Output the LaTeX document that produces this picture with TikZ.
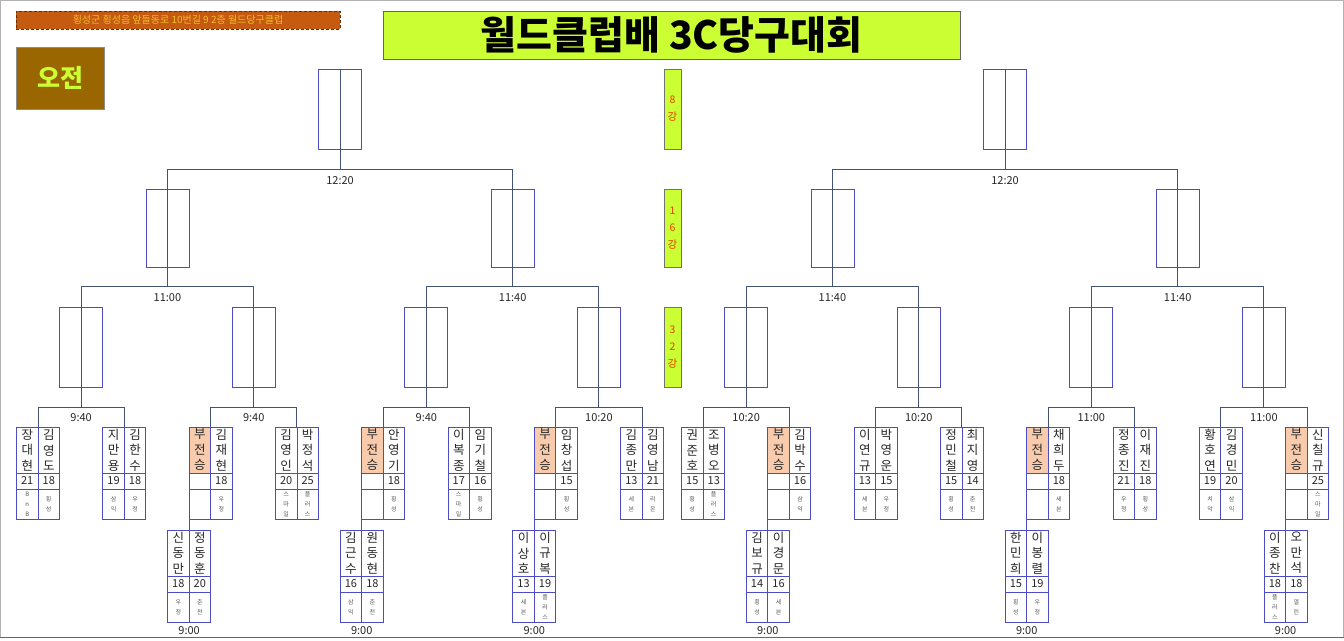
\documentclass[tikz,border=0pt]{standalone}
\usepackage{fontspec}
\setmainfont{Noto Sans CJK KR}
\usetikzlibrary{calc,positioning}
\definecolor{rahmen}{RGB}{76,76,196}
\definecolor{strich}{RGB}{68,82,120}
\definecolor{limette}{RGB}{204,255,51}
\definecolor{pfirsich}{RGB}{248,203,173}
\definecolor{kopf}{RGB}{197,90,17}
\definecolor{kopfschrift}{RGB}{240,190,40}
\definecolor{senf}{RGB}{153,102,0}
\definecolor{rundenrot}{RGB}{230,60,0}

\tikzset{
  kasten/.style={draw=rahmen, line width=0.8pt},
  leer/.style={draw=rahmen, line width=0.8pt, minimum width=43pt, inner sep=0pt},
  linie/.style={draw=strich, line width=1pt},
  spieler/.style={align=center, inner sep=0pt, font=\fontsize{12.5}{15.5}\selectfont, text=black!85},
  punkte/.style={inner sep=0pt, font=\fontsize{11}{13}\selectfont, text=black!85},
  verein/.style={align=center, inner sep=0pt, font=\fontsize{6}{10}\selectfont, text=black!65},
  zeit/.style={inner sep=0pt, font=\fontsize{11}{13}\selectfont, text=black!85},
  rundenbox/.style={draw=black!55, fill=limette, minimum width=17pt, inner sep=0pt, align=center,
    text=rundenrot, font=\fontsize{10.5}{17}\selectfont},
}

% Paarung: oben Mitte, dann Name/Punkte/Verein links und rechts
\newcommand{\paar}[7]{%
  \begin{scope}[shift={(#1)}]
    \draw[kasten] (-21.5,0) rectangle (21.5,92);
    \draw[kasten] (0,0) -- (0,92) (-21.5,46) -- (21.5,46) (-21.5,62) -- (21.5,62);
    \coordinate (#1-fuss) at (-21.5,92);
    \node[spieler] (#1-na) at (-10.75,23) {#2};
    \node[punkte]  (#1-sa) at (-10.75,54) {#3};
    \node[verein]  (#1-ca) at (-10.75,77) {#4};
    \node[spieler] (#1-nb) at (10.75,23) {#5};
    \node[punkte]  (#1-sb) at (10.75,54) {#6};
    \node[verein]  (#1-cb) at (10.75,77) {#7};
  \end{scope}}
% Freilos: Feld einfaerben, Vorrunde darunter haengen
\newcommand{\freilos}[1]{%
  \fill[pfirsich] ($(#1)+(-21.5,0)$) rectangle ($(#1)+(0,46)$);
  \coordinate (u#1) at ($(#1)+(-21.5,103)$);
  \node[zeit] (z-u#1) at ($(u#1)+(0,101)$) {9:00};}

\begin{document}
\begin{tikzpicture}[x=1pt, y=-1pt]
  \useasboundingbox (0,0) rectangle (1344,640);
  \draw[black!30, line width=1.2pt] (0.6,0.6) rectangle (1343.4,637.6);
  \draw[black!60, line width=1.2pt] (0,637.6) -- (1344,637.6);

  \node[draw=kopf!50!black, densely dashed, fill=kopf, minimum width=324pt, minimum height=18pt, inner sep=0pt,
    text=kopfschrift, font=\fontsize{10}{11}\selectfont] (adresse) at (178,20) {횡성군 횡성읍 앞들동로 10번길 9 2층 월드당구클럽};
  \node[draw=black!45, fill=senf, minimum width=88pt, minimum height=62pt, inner sep=0pt,
    text=limette, font=\fontsize{25}{28}\selectfont\bfseries] (vormittag) at (60,78) {오전};
  \node[draw=black!60, fill=limette, minimum width=577pt, minimum height=48pt, inner sep=0pt,
    font=\fontsize{39}{42}\selectfont\bfseries] (titel) at (671.5,35) {월드클럽배 3C당구대회};

  \node[rundenbox, minimum height=80pt] (r8) at (672.5,109) {8\\강};
  \node[rundenbox, minimum height=78pt] (r16) at (672.5,228) {1\\6\\강};
  \node[rundenbox, minimum height=80pt] (r32) at (672.5,347) {3\\2\\강};

  % Turnierbaum
  \foreach \h/\b in {1/38,2/703}{
    \foreach \i in {0,...,7}
      \coordinate (t\h\i) at ({\b+86.3*\i},427);
    \foreach \j in {0,...,3}{
      \pgfmathtruncatemacro\ia{2*\j}
      \pgfmathtruncatemacro\ib{2*\j+1}
      \node[leer, minimum height=80pt] (e\h\j) at ({\b+86.3*(2*\j+0.5)},347) {};
      \coordinate (e\h\j-o) at ($(e\h\j.north)+(0,-20)$);
      \coordinate (e\h\j-u) at ($(e\h\j.south)+(0,20)$);
      \draw[linie] (t\h\ia) |- (e\h\j-u) -| (t\h\ib);
      \draw[linie] (e\h\j-o) -- (e\h\j-u);
    }
    \foreach \k in {0,1}{
      \pgfmathtruncatemacro\ka{2*\k}
      \pgfmathtruncatemacro\kb{2*\k+1}
      \node[leer, minimum height=78pt] (f\h\k) at ({\b+86.3*(4*\k+1.5)},228) {};
      \coordinate (f\h\k-o) at ($(f\h\k.north)+(0,-19)$);
      \draw[linie] (e\h\ka-o) -- (e\h\kb-o);
      \draw[linie] (f\h\k-o) -- ($(f\h\k.south)+(0,20)$);
    }
    \node[leer, minimum height=80pt] (g\h) at ({\b+86.3*3.5},109) {};
    \draw[linie] (f\h0-o) -- (f\h1-o);
    \draw[linie] (g\h.north) -- ($(g\h.south)+(0,21)$);
    \node[zeit] (z-g\h) at ($(g\h.south)+(0,31)$) {12:20};
  }
  \foreach \knoten/\zt in {e10/9:40,e11/9:40,e12/9:40,e13/10:20,e20/10:20,e21/10:20,e22/11:00,e23/11:00,
      f10/11:00,f11/11:40,f20/11:40,f21/11:40}
    \node[zeit] (z-\knoten) at ($(\knoten.south)+(0,30)$) {\zt};

  % linke Haelfte
  \paar{t10}{장\\대\\현}{21}{B\\n\\B}{김\\영\\도}{18}{횡\\성}
  \paar{t11}{지\\만\\용}{19}{삼\\익}{김\\한\\수}{18}{우\\정}
  \freilos{t12}
  \paar{t12}{부\\전\\승}{}{}{김\\재\\현}{18}{우\\정}
  \draw[kasten] (t12-fuss) -- (ut12);
  \paar{ut12}{신\\동\\만}{18}{우\\정}{정\\동\\훈}{20}{춘\\천}
  \paar{t13}{김\\영\\인}{20}{스\\마\\일}{박\\정\\석}{25}{플\\러\\스}
  \freilos{t14}
  \paar{t14}{부\\전\\승}{}{}{안\\영\\기}{18}{횡\\성}
  \draw[kasten] (t14-fuss) -- (ut14);
  \paar{ut14}{김\\근\\수}{16}{삼\\익}{원\\동\\현}{18}{춘\\천}
  \paar{t15}{이\\복\\종}{17}{스\\마\\일}{임\\기\\철}{16}{횡\\성}
  \freilos{t16}
  \paar{t16}{부\\전\\승}{}{}{임\\창\\섭}{15}{횡\\성}
  \draw[kasten] (t16-fuss) -- (ut16);
  \paar{ut16}{이\\상\\호}{13}{세\\븐}{이\\규\\복}{19}{플\\러\\스}
  \paar{t17}{김\\종\\만}{13}{세\\븐}{김\\영\\남}{21}{리\\온}

  % rechte Haelfte
  \paar{t20}{권\\준\\호}{15}{횡\\성}{조\\병\\오}{13}{플\\러\\스}
  \freilos{t21}
  \paar{t21}{부\\전\\승}{}{}{김\\박\\수}{16}{삼\\익}
  \draw[kasten] (t21-fuss) -- (ut21);
  \paar{ut21}{김\\보\\규}{14}{횡\\성}{이\\경\\문}{16}{세\\븐}
  \paar{t22}{이\\연\\규}{13}{세\\븐}{박\\영\\운}{15}{우\\정}
  \paar{t23}{정\\민\\철}{15}{횡\\성}{최\\지\\영}{14}{춘\\천}
  \freilos{t24}
  \paar{t24}{부\\전\\승}{}{}{채\\희\\두}{18}{세\\븐}
  \draw[kasten] (t24-fuss) -- (ut24);
  \paar{ut24}{한\\민\\희}{15}{횡\\성}{이\\봉\\렬}{19}{우\\정}
  \paar{t25}{정\\종\\진}{21}{우\\정}{이\\재\\진}{18}{횡\\성}
  \paar{t26}{황\\호\\연}{19}{치\\악}{김\\경\\민}{20}{삼\\익}
  \freilos{t27}
  \paar{t27}{부\\전\\승}{}{}{신\\칠\\규}{25}{스\\마\\일}
  \draw[kasten] (t27-fuss) -- (ut27);
  \paar{ut27}{이\\종\\찬}{18}{플\\러\\스}{오\\만\\석}{18}{열\\린}
\end{tikzpicture}
\end{document}
